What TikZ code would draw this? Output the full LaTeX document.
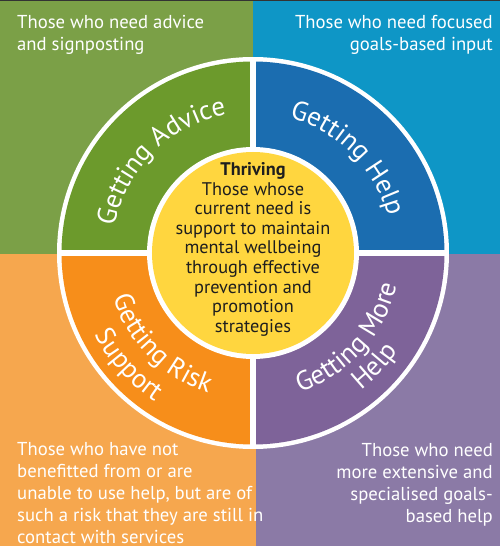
\documentclass[tikz,border=0pt]{standalone}
\usepackage{fontspec}
\setmainfont{PT Sans}
\usetikzlibrary{decorations.text}
\definecolor{bgG}{HTML}{7BA047}
\definecolor{bgB}{HTML}{0E96C6}
\definecolor{bgO}{HTML}{F6A74E}
\definecolor{bgP}{HTML}{8B7AA6}
\definecolor{rG}{HTML}{6C9A2C}
\definecolor{rB}{HTML}{1B6DB0}
\definecolor{rO}{HTML}{F78E1A}
\definecolor{rP}{HTML}{7E6399}
\definecolor{yel}{HTML}{FFD63F}
\definecolor{ink}{HTML}{1E1E1E}
\tikzset{
  cornertext/.style={inner sep=0pt, text=white, font=\fontsize{18.7}{22}\selectfont},
  ringlabel/.style={decorate, decoration={text along path, text align=center, text color=white, text={|\fontsize{27}{27}\selectfont|#1}}},
}
\begin{document}
\begin{tikzpicture}[x=1pt,y=1pt]
\useasboundingbox (-253,-293) rectangle (247,253);
% background quadrants
\fill[bgG] (-253,-1) rectangle (0,253);
\fill[bgB] (0,-1) rectangle (247,253);
\fill[bgO] (-253,-293) rectangle (3,-1);
\fill[bgP] (3,-293) rectangle (247,-1);
\fill[black!80] (-253,251.6) rectangle (247,253);
% ring
\fill[white] (0,0) circle (196);
\fill[rG] (0,0) -- (180:191.5) arc (180:90:191.5) -- cycle;
\fill[rB] (0,0) -- (90:191.5) arc (90:0:191.5) -- cycle;
\fill[rP] (0,0) -- (0:191.5) arc (0:-90:191.5) -- cycle;
\fill[rO] (0,0) -- (-90:191.5) arc (-90:-180:191.5) -- cycle;
\draw[white, line width=6.5] (-194,0) -- (194,0);
\draw[white, line width=6.5] (0,-194) -- (0,194);
\fill[white] (0,0) circle (106);
\fill[yel] (0,0) circle (101);
% ring labels
\path[ringlabel={Getting Advice}] (200:141) arc (200:70:141);
\path[ringlabel={Getting Help}] (110:140) arc (110:-20:140);
\path[ringlabel={Getting Risk}] (160:147) arc (160:290:147);
\path[ringlabel={Support}] (160:178) arc (160:284:178);
\path[ringlabel={Getting More}] (-110:147) arc (-110:26:147);
\path[ringlabel={Help}] (-103:175) arc (-103:17:175);
% centre text
\node[inner sep=0pt, align=center, text=ink, font=\fontsize{18.3}{19.6}\selectfont] (thriving) at (0,3.6)
  {\textbf{Thriving}\\Those whose\\current need is\\support to maintain\\mental wellbeing\\through effective\\prevention and\\promotion\\strategies};
% corner texts
\node[cornertext, anchor=north west, align=left] (advice) at (-236,237.5)
  {Those who need advice\\and signposting};
\node[cornertext, anchor=north east, align=right] (help) at (240,237.5)
  {Those who need focused\\goals-based input};
\node[cornertext, anchor=north west, align=left] (risk) at (-236,-189)
  {Those who have not\\benefitted from or are\\unable to use help, but are of\\such a risk that they are still in\\contact with services};
\node[cornertext, anchor=north east, align=right] (morehelp) at (240,-190)
  {Those who need\\more extensive and\\specialised goals-\\based help};
\end{tikzpicture}
\end{document}
